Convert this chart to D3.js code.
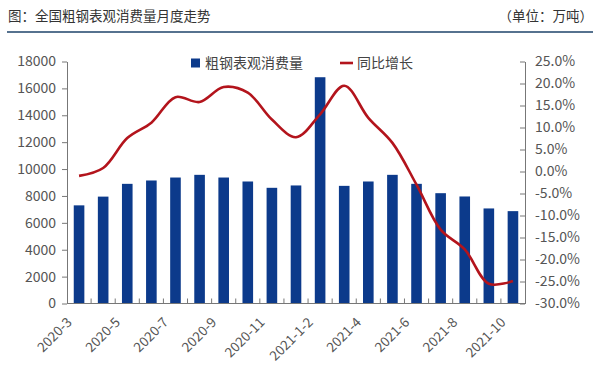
<!DOCTYPE html>
<html><head><meta charset="utf-8">
<script src="https://cdn.jsdelivr.net/npm/d3@7/dist/d3.min.js"></script>
<style>
body{margin:0;background:#fff;}
svg{display:block;font-family:"Noto Sans CJK SC","Noto Sans",sans-serif;}
</style></head>
<body><svg id="c" width="600" height="373"></svg>
<script>
const categories = ["2020-3","2020-4","2020-5","2020-6","2020-7","2020-8","2020-9","2020-10","2020-11","2020-12","2021-1-2","2021-3","2021-4","2021-5","2021-6","2021-7","2021-8","2021-9","2021-10"];
const consumption = [7300,7950,8900,9150,9370,9570,9370,9075,8605,8780,16830,8750,9075,9570,8900,8205,7960,7070,6870];
const yoy = [-1.0,0.8,7.6,11.1,16.9,15.8,19.2,17.9,11.8,7.8,13.0,19.5,12.2,6.5,-3.0,-13.2,-17.7,-25.5,-24.9];
const leftTicks = [0,2000,4000,6000,8000,10000,12000,14000,16000,18000];
const rightTicks = [-30,-25,-20,-15,-10,-5,0,5,10,15,20,25];
const xLabels = ["2020-3","2020-5","2020-7","2020-9","2020-11","2021-1-2","2021-4","2021-6","2021-8","2021-10"];

const svg = d3.select("#c");
const L = 67, R = 525, T = 61.5, B = 303.5;
const txt = "#555";

// title
svg.append("text").attr("x",8).attr("y",21).attr("font-size",13.5).attr("fill","#333").text("图：全国粗钢表观消费量月度走势");
svg.append("text").attr("x",593).attr("y",21).attr("text-anchor","end").attr("font-size",13.5).attr("fill","#333").text("（单位：万吨）");
svg.append("line").attr("x1",7).attr("x2",593).attr("y1",32).attr("y2",32).attr("stroke","#56728f").attr("stroke-width",2);

const x = d3.scaleBand().domain(categories).range([L,R]).paddingInner(0.56).paddingOuter(0.28);
const xStep = d3.scaleBand().domain(categories).range([L,R]);
const y = d3.scaleLinear().domain([0,18000]).range([B,T]);
const y2 = d3.scaleLinear().domain([-30,25]).range([B,T]);

// bars
svg.append("g").selectAll("rect").data(consumption).join("rect")
  .attr("x",(d,i)=>x(categories[i])).attr("width",x.bandwidth())
  .attr("y",d=>y(d)).attr("height",d=>B-y(d)).attr("fill","#0c3a8b");

// line
const line = d3.line().x((d,i)=>xStep(categories[i])+xStep.bandwidth()/2).y(d=>y2(d)).curve(d3.curveCatmullRom.alpha(0.5));
svg.append("path").attr("d",line(yoy)).attr("fill","none").attr("stroke","#b3141c").attr("stroke-width",2.6);

// left axis
const gl = svg.append("g").attr("transform",`translate(${L},0)`)
  .call(d3.axisLeft(y).tickValues(leftTicks).tickSize(5).tickSizeOuter(0).tickPadding(6).tickFormat(d3.format("d")));
gl.selectAll("text").attr("font-size",14).attr("fill",txt).attr("font-family","'Noto Sans CJK SC',sans-serif");
gl.selectAll("line,path").attr("stroke","#777");

// right axis (ticks inward)
const gr = svg.append("g").attr("transform",`translate(${R},0)`)
  .call(d3.axisRight(y2).tickValues(rightTicks).tickSize(-5).tickSizeOuter(0).tickPadding(10).tickFormat(d=>d.toFixed(1)+"%"));
gr.selectAll("text").attr("font-size",14).attr("fill",txt).attr("font-family","'Noto Sans CJK SC',sans-serif");
gr.selectAll("line,path").attr("stroke","#777");

// x axis
const gx = svg.append("g");
gx.append("line").attr("x1",L).attr("x2",R).attr("y1",B).attr("y2",B).attr("stroke","#777");
gx.selectAll("line.t").data(categories.slice(1)).join("line").attr("class","t")
  .attr("x1",d=>xStep(d)).attr("x2",d=>xStep(d)).attr("y1",B).attr("y2",B-5).attr("stroke","#777");
gx.selectAll("text").data(xLabels).join("text")
  .attr("transform",d=>`translate(${xStep(d)+xStep.bandwidth()/2-13},${B+13}) rotate(-45)`)
  .attr("text-anchor","end").attr("dy","0.7em").attr("font-size",13.5).attr("fill",txt).text(d=>d);

// legend
const lg = svg.append("g");
lg.append("rect").attr("x",191).attr("y",58.5).attr("width",9).attr("height",9).attr("fill","#0c3a8b");
lg.append("text").attr("x",205).attr("y",68).attr("font-size",14).attr("fill","#444").text("粗钢表观消费量");
lg.append("line").attr("x1",340).attr("x2",353).attr("y1",63).attr("y2",63).attr("stroke","#b3141c").attr("stroke-width",2.6);
lg.append("text").attr("x",357).attr("y",68).attr("font-size",14).attr("fill","#444").text("同比增长");
</script></body></html>
